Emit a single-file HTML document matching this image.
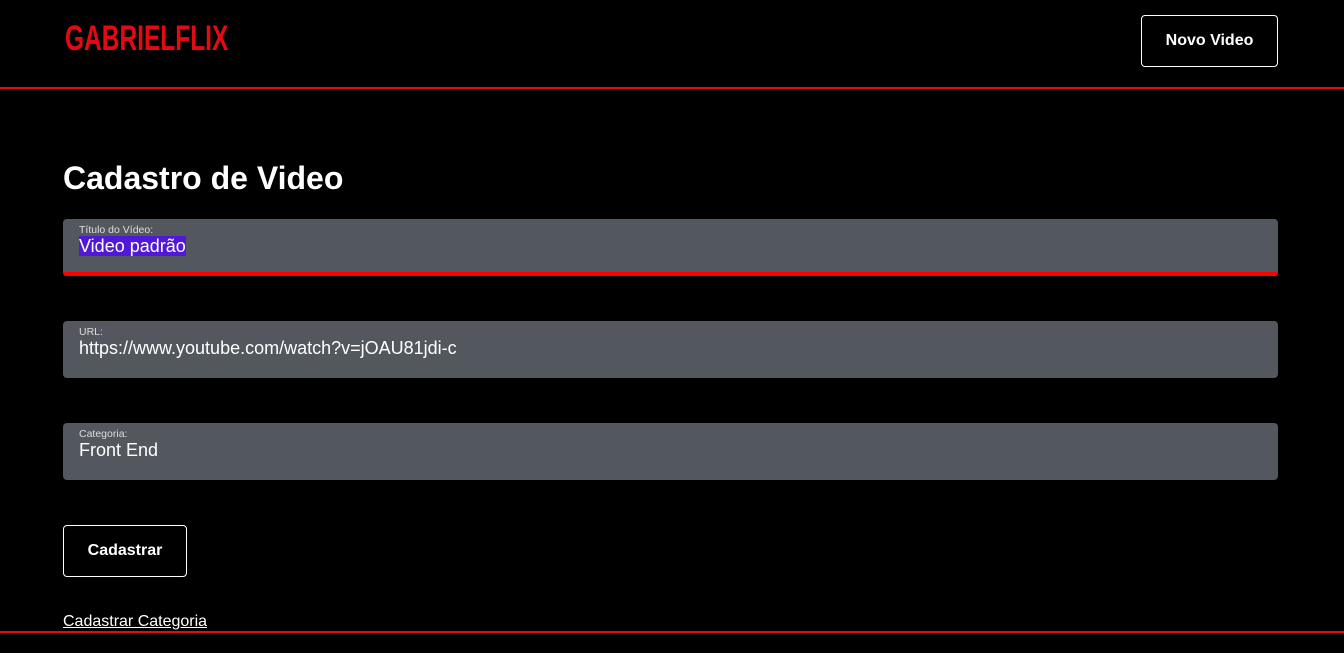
<!DOCTYPE html>
<html><head><style>
*{margin:0;padding:0;box-sizing:border-box}
body{width:1344px;height:653px;background:#000;font-family:"Liberation Sans",sans-serif;color:#fff;position:relative;overflow:hidden}
.abs{position:absolute}
.logo{left:65px;top:20px;font-size:35px;font-weight:bold;color:#e50914;transform:scaleX(0.7);transform-origin:left top;line-height:38px}
.hline{left:0;width:1344px;height:2px;background:#e50914}
.btn{border:1px solid #fff;border-radius:4px;font-weight:bold;font-size:16px;display:flex;align-items:center;justify-content:center}
.field{left:63px;width:1215px;height:57px;background:#53585f;border-radius:4px}
.lbl{position:absolute;left:16px;top:5px;font-size:10.5px;color:#ddd}
.val{position:absolute;left:16px;top:17px;font-size:18px;color:#fff;line-height:21px}
</style></head><body>
<div class="abs logo">GABRIELFLIX</div>
<div class="abs btn" style="left:1141px;top:15px;width:137px;height:52px">Novo Video</div>
<div class="abs hline" style="top:87px"></div>
<div class="abs" style="left:63px;top:160px;font-size:32px;font-weight:bold">Cadastro de Video</div>
<div class="abs field" style="top:219px;height:57px;border-bottom:4px solid #f00;border-radius:4px 4px 3px 3px">
<div class="lbl">Título do Vídeo:</div><div class="val"><span style="background:#5218d8">Video padrão</span></div></div>
<div class="abs field" style="top:321px"><div class="lbl">URL:</div><div class="val">https://www.youtube.com/watch?v=jOAU81jdi-c</div></div>
<div class="abs field" style="top:423px"><div class="lbl">Categoria:</div><div class="val">Front End</div></div>
<div class="abs btn" style="left:63px;top:525px;width:124px;height:52px">Cadastrar</div>
<div class="abs" style="left:63px;top:613px;font-size:16px;text-decoration:underline">Cadastrar Categoria</div>
<div class="abs hline" style="top:631px"></div>
</body></html>
